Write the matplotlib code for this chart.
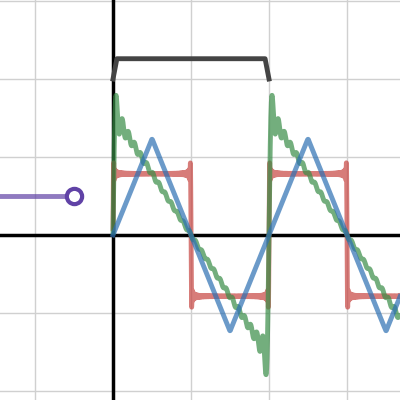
import numpy as np
import matplotlib
matplotlib.use("Agg")
import matplotlib.pyplot as plt

n_square = 60
n_saw = 25
n_tri = 40
bracket_x = [0, 0.05, 1.95, 2]
bracket_y = [2, 2.26, 2.26, 2]
purple_x = [-2, -0.5]
purple_y = [0.5, 0.5]

x = np.linspace(-1.5, 3.7, 6000)
x = x[x >= 0]
sq = sum(np.sin((2*k-1)*np.pi*x)/(2*k-1) for k in range(1, n_square+1))
saw = sum(np.sin(k*np.pi*x)/k for k in range(1, n_saw+1))
tri = sum((-1)**k*np.sin((2*k+1)*np.pi*x)/(2*k+1)**2 for k in range(0, n_tri))

fig = plt.figure(figsize=(4, 4), dpi=100)
ax = fig.add_axes([0, 0, 1, 1])
ax.set_xlim(-113/78, 287/78)
ax.set_ylim(-165/78, 235/78)
for g in range(-1, 4):
    ax.axvline(g, color="#d0d0d0", lw=1, zorder=0)
for g in range(-2, 4):
    ax.axhline(g, color="#d0d0d0", lw=1, zorder=0)
ax.axvline(0, color="black", lw=2.5, zorder=1)
ax.axhline(0, color="black", lw=2.5, zorder=1)
ax.plot(x, sq, color="#c74440", lw=3.5, alpha=0.7, zorder=2)
ax.plot(x, saw, color="#388c46", lw=3.5, alpha=0.7, zorder=3)
ax.plot(x, tri, color="#2d70b3", lw=3.5, alpha=0.7, zorder=4)
ax.plot(bracket_x, bracket_y, color="#444444", lw=3.5, zorder=5)
ax.plot(purple_x, purple_y, color="#6042a6", lw=3.5, alpha=0.7, zorder=5)
ax.plot([purple_x[-1]], [purple_y[-1]], 'o', ms=11, mfc="white", mec="#6042a6", mew=3, zorder=6)
ax.set_xticks([]); ax.set_yticks([])
for s in ax.spines.values():
    s.set_visible(False)
fig.savefig("out.png", dpi=100)
